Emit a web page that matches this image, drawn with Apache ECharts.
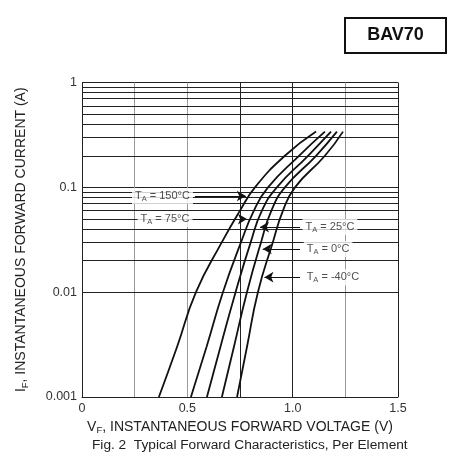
<!DOCTYPE html>
<html>
<head>
<meta charset="utf-8">
<script src="https://cdn.jsdelivr.net/npm/echarts@6/dist/echarts.min.js"></script>
<style>
    html, body { margin: 0; padding: 0; background: #fff; }
    #chart { width: 474px; height: 465px; }
</style>
</head>
<body>
<div id="chart"></div>
<script>
    // forward current levels (A), shared by all curves
    var ifLevels = [0.001, 0.003, 0.01, 0.03, 0.06, 0.1, 0.2, 0.34];
    // forward voltage (V) at each level, per temperature
    var vf150 = [0.365, 0.451, 0.541, 0.664, 0.750, 0.821, 0.963, 1.111];
    var vf75 = [0.517, 0.591, 0.669, 0.755, 0.816, 0.883, 1.030, 1.153];
    var vf25 = [0.593, 0.657, 0.729, 0.801, 0.854, 0.925, 1.073, 1.182];
    var vf0 = [0.664, 0.721, 0.783, 0.850, 0.899, 0.963, 1.111, 1.210];
    var vfm40 = [0.736, 0.783, 0.835, 0.906, 0.954, 1.011, 1.153, 1.239];

    var yTicks = ['0.001', '0.01', '0.1', '1'];
    var xTicks = ['0', '0.5', '1.0', '1.5'];
    var minorGrid = [0.002, 0.003, 0.004, 0.005, 0.006, 0.007, 0.008, 0.009,
                     0.02, 0.03, 0.04, 0.05, 0.06, 0.07, 0.08, 0.09,
                     0.2, 0.3, 0.4, 0.5, 0.6, 0.7, 0.8, 0.9];

    // temperature labels and their arrows (label x, arrow start, arrow tip, current)
    var tempNames = ['150°C', '75°C', '25°C', '0°C', '-40°C'];
    var tempLabelX = [0.382, 0.394, 1.177, 1.168, 1.191];
    var tempArrowFrom = [0.536, 0.527, 1.035, 1.035, 1.035];
    var tempArrowTo = [0.778, 0.783, 0.845, 0.858, 0.866];
    var tempArrowY = [0.0826, 0.0498, 0.0418, 0.0258, 0.0139];

    var font = 'Liberation Sans, Arial, sans-serif';

    function curve(name, vf) {
        return {
            name: name,
            type: 'line',
            smooth: 0.5,
            showSymbol: false,
            z: 5,
            lineStyle: { color: '#111', width: 1.8 },
            data: vf.map(function (v, i) { return [v, ifLevels[i]]; })
        };
    }

    var subRich = function (size, sub) {
        return {
            t: { fontFamily: font, fontSize: size, color: '#222' },
            s: { fontFamily: font, fontSize: sub, color: '#222', verticalAlign: 'bottom', padding: [Math.round(size / 2), 0, 0, 0] }
        };
    };

    var chart = echarts.init(document.getElementById('chart'));
    chart.setOption({
        animation: false,
        textStyle: { fontFamily: font },
        grid: { left: 82, right: 76, top: 82.5, bottom: 68 },
        title: [{
            text: 'Fig. 2  Typical Forward Characteristics, Per Element',
            left: 87,
            top: 433,
            textStyle: { fontFamily: font, fontSize: 13.7, fontWeight: 'normal', color: '#222' }
        }],
        graphic: [
            { type: 'rect', shape: { x: 345, y: 18, width: 101, height: 35 },
              style: { fill: '#fff', stroke: '#111', lineWidth: 2 } },
            { type: 'text', x: 395.5, y: 35.5,
              style: { text: 'BAV70', fontFamily: font, fontSize: 18, fontWeight: 'bold',
                       fill: '#111', align: 'center', verticalAlign: 'middle' } }
        ],
        xAxis: {
            type: 'value',
            min: 0, max: 1.5, interval: 0.25,
            name: '{t|V}{s|F}{t|, INSTANTANEOUS FORWARD VOLTAGE (V)}',
            nameLocation: 'middle',
            nameGap: 19,
            nameTextStyle: { rich: subRich(14, 9.5) },
            axisLine: { lineStyle: { color: '#222', width: 1 } },
            axisTick: { show: false },
            axisLabel: {
                fontSize: 12.5, color: '#333', margin: 5,
                formatter: function (v) {
                    var k = Math.round(v / 0.5);
                    return Math.abs(v - k * 0.5) < 1e-6 ? xTicks[k] : '';
                }
            },
            splitLine: { show: true, lineStyle: { color: ['#222', '#999', '#999', '#222', '#222', '#999', '#222'], width: 1 } }
        },
        yAxis: {
            type: 'log',
            logBase: 10,
            min: 0.001, max: 1,
            name: '{t|I}{s|F}{t|, INSTANTANEOUS FORWARD CURRENT (A)}',
            nameLocation: 'middle',
            nameGap: 52,
            nameRotate: 90,
            nameTextStyle: { rich: subRich(14, 9.5) },
            axisLine: { show: true, lineStyle: { color: '#222', width: 1 } },
            axisTick: { show: false },
            axisLabel: {
                fontSize: 12.5, color: '#333', margin: 5,
                formatter: function (v) {
                    var k = Math.round(Math.log10(v)) + 3;
                    return yTicks[k] || '';
                }
            },
            splitLine: { show: true, lineStyle: { color: '#222', width: 1 } }
        },
        series: [
            {
                name: 'grid',
                type: 'line',
                data: [],
                silent: true,
                z: 1,
                markLine: {
                    silent: true,
                    symbol: ['none', 'none'],
                    label: { show: false },
                    lineStyle: { color: '#222', width: 1, type: 'solid' },
                    data: minorGrid.map(function (v) { return { yAxis: v }; })
                }
            },
            curve('150', vf150),
            curve('75', vf75),
            curve('25', vf25),
            curve('0', vf0),
            curve('-40', vfm40),
            {
                name: 'arrows',
                type: 'line',
                data: [],
                silent: true,
                z: 6,
                markLine: {
                    silent: true,
                    symbol: ['none', 'arrow'],
                    symbolSize: [8, 9],
                    label: { show: false },
                    lineStyle: { color: '#111', width: 1.2, type: 'solid' },
                    data: tempNames.map(function (n, i) {
                        return [{ coord: [tempArrowFrom[i], tempArrowY[i]] },
                                { coord: [tempArrowTo[i], tempArrowY[i]] }];
                    })
                }
            },
            {
                name: 'labels',
                type: 'scatter',
                symbolSize: 0,
                silent: true,
                z: 7,
                data: tempNames.map(function (n, i) { return [tempLabelX[i], tempArrowY[i], n]; }),
                label: {
                    show: true,
                    position: 'inside',
                    backgroundColor: '#fff',
                    padding: [1, 3, 1, 3],
                    formatter: function (p) { return '{t|T}{s|A}{t| = ' + p.value[2] + '}'; },
                    rich: subRich(11, 7.5)
                }
            }
        ]
    });
</script>
</body>
</html>
